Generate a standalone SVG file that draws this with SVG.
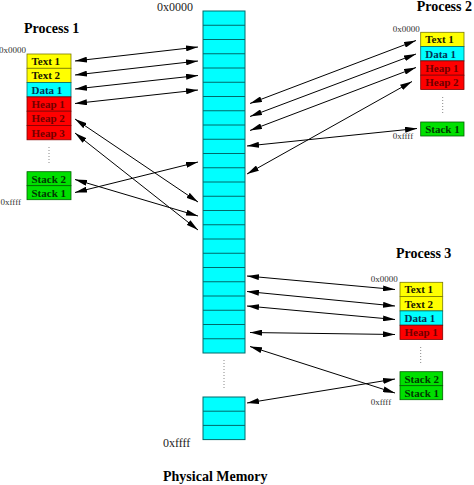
<svg xmlns="http://www.w3.org/2000/svg" width="474" height="485" viewBox="0 0 474 485">
<defs>
<marker id="ah" viewBox="0 0 12 6" refX="12" refY="3" markerWidth="12" markerHeight="6" markerUnits="userSpaceOnUse" orient="auto-start-reverse">
<path d="M0,0 L12,3 L0,6 Z" fill="#000"/>
</marker>
<style>
.t{font-family:"Liberation Serif","Times New Roman",serif;}
.title{font-size:14px;font-weight:bold;fill:#000;}
.addr{font-size:9px;fill:#333;}
.maddr{font-size:12px;fill:#222;}
.lbl{font-size:11px;font-weight:bold;}
.txt rect{fill:#ffff00;stroke:#7a7a00;stroke-width:0.8;}
.txt text{fill:#1a1a00;}
.dat rect{fill:#00ffff;stroke:#006a6a;stroke-width:0.8;}
.dat text{fill:#003355;}
.hp rect{fill:#ff0000;stroke:#800000;stroke-width:0.8;}
.hp text{fill:#700000;}
.stk rect{fill:#00e000;stroke:#006000;stroke-width:0.8;}
.stk text{fill:#003800;}
.mem{fill:#00ffff;stroke:#006a6a;stroke-width:1;}
.cell{stroke:#006a6a;stroke-width:1;}
.dots{stroke:#888;stroke-width:1;stroke-dasharray:1,2;fill:none;}
.arr{stroke:#000;stroke-width:1;fill:none;marker-start:url(#ah);marker-end:url(#ah);}
</style>
</defs>
<rect width="474" height="485" fill="#fff"/>

<g id="memory">
<rect class="mem" x="203" y="11" width="42" height="342"/>
<path class="cell" d="M203,25.25H245M203,39.5H245M203,53.75H245M203,68H245M203,82.25H245M203,96.5H245M203,110.75H245M203,125H245M203,139.25H245M203,153.5H245M203,167.75H245M203,182H245M203,196.25H245M203,210.5H245M203,224.75H245M203,239H245M203,253.25H245M203,267.5H245M203,281.75H245M203,296H245M203,310.25H245M203,324.5H245M203,338.75H245"/>
<line class="dots" x1="224" y1="360" x2="224" y2="388"/>
<rect class="mem" x="203" y="397" width="42" height="42.6"/>
<path class="cell" d="M203,411.2H245M203,425.4H245"/>
<text class="t maddr" x="157" y="11">0x0000</text>
<text class="t maddr" x="163" y="447">0xffff</text>
<text class="t title" x="163" y="481">Physical Memory</text>
</g>

<g id="process1">
<text class="t title" x="24" y="33">Process 1</text>
<text class="t addr" x="26" y="53" text-anchor="end">0x0000</text>
<text class="t addr" x="21" y="205" text-anchor="end">0xffff</text>
<g class="txt"><rect x="27" y="54" width="44" height="14.3"/><text class="t lbl" x="31.5" y="65">Text 1</text></g>
<g class="txt"><rect x="27" y="68.3" width="44" height="14.3"/><text class="t lbl" x="31.5" y="79.3">Text 2</text></g>
<g class="dat"><rect x="27" y="82.6" width="44" height="14.3"/><text class="t lbl" x="31.5" y="93.6">Data 1</text></g>
<g class="hp"><rect x="27" y="96.9" width="44" height="14.3"/><text class="t lbl" x="31.5" y="107.9">Heap 1</text></g>
<g class="hp"><rect x="27" y="111.2" width="44" height="14.3"/><text class="t lbl" x="31.5" y="122.2">Heap 2</text></g>
<g class="hp"><rect x="27" y="125.5" width="44" height="14.3"/><text class="t lbl" x="31.5" y="136.5">Heap 3</text></g>
<line class="dots" x1="49" y1="147" x2="49" y2="165"/>
<g class="stk"><rect x="27" y="171.7" width="44" height="14"/><text class="t lbl" x="31.5" y="182.5">Stack 2</text></g>
<g class="stk"><rect x="27" y="185.7" width="44" height="14"/><text class="t lbl" x="31.5" y="196.5">Stack 1</text></g>
</g>

<g id="process2">
<text class="t title" x="472" y="11" text-anchor="end">Process 2</text>
<text class="t addr" x="392.7" y="32">0x0000</text>
<text class="t addr" x="392.7" y="139">0xffff</text>
<g class="txt"><rect x="420.7" y="32.3" width="43.3" height="14.3"/><text class="t lbl" x="425.2" y="43.3">Text 1</text></g>
<g class="dat"><rect x="420.7" y="46.6" width="43.3" height="14.3"/><text class="t lbl" x="425.2" y="57.6">Data 1</text></g>
<g class="hp"><rect x="420.7" y="60.9" width="43.3" height="14.3"/><text class="t lbl" x="425.2" y="71.9">Heap 1</text></g>
<g class="hp"><rect x="420.7" y="75.2" width="43.3" height="14.3"/><text class="t lbl" x="425.2" y="86.2">Heap 2</text></g>
<line class="dots" x1="442.7" y1="97" x2="442.7" y2="115"/>
<g class="stk"><rect x="420.7" y="122" width="43.3" height="14"/><text class="t lbl" x="425.2" y="132.8">Stack 1</text></g>
</g>

<g id="process3">
<text class="t title" x="396" y="258">Process 3</text>
<text class="t addr" x="370.7" y="282">0x0000</text>
<text class="t addr" x="370.7" y="405">0xffff</text>
<g class="txt"><rect x="400" y="282.3" width="42.7" height="14.3"/><text class="t lbl" x="404.5" y="293.3">Text 1</text></g>
<g class="txt"><rect x="400" y="296.6" width="42.7" height="14.3"/><text class="t lbl" x="404.5" y="307.6">Text 2</text></g>
<g class="dat"><rect x="400" y="310.9" width="42.7" height="14.3"/><text class="t lbl" x="404.5" y="321.9">Data 1</text></g>
<g class="hp"><rect x="400" y="325.2" width="42.7" height="14.3"/><text class="t lbl" x="404.5" y="336.2">Heap 1</text></g>
<line class="dots" x1="420.7" y1="347" x2="420.7" y2="365"/>
<g class="stk"><rect x="400" y="371.7" width="42.7" height="14"/><text class="t lbl" x="404.5" y="382.5">Stack 2</text></g>
<g class="stk"><rect x="400" y="385.7" width="42.7" height="14"/><text class="t lbl" x="404.5" y="396.5">Stack 1</text></g>
</g>

<g id="connectors">
<line class="arr" x1="75" y1="61" x2="198" y2="47"/>
<line class="arr" x1="75" y1="75" x2="198" y2="61"/>
<line class="arr" x1="75" y1="89" x2="198" y2="75.5"/>
<line class="arr" x1="75" y1="103.5" x2="198" y2="90"/>
<line class="arr" x1="75" y1="119" x2="198" y2="202"/>
<line class="arr" x1="75" y1="133" x2="198" y2="230"/>
<line class="arr" x1="75" y1="179.5" x2="198" y2="216"/>
<line class="arr" x1="75" y1="192.5" x2="198" y2="162"/>

<line class="arr" x1="250" y1="103.5" x2="416" y2="40.5"/>
<line class="arr" x1="250" y1="116.5" x2="416" y2="54"/>
<line class="arr" x1="250" y1="130.5" x2="416" y2="67.5"/>
<line class="arr" x1="247" y1="174" x2="412" y2="81.5"/>
<line class="arr" x1="247" y1="146" x2="417" y2="128.5"/>

<line class="arr" x1="247" y1="276" x2="395" y2="289.5"/>
<line class="arr" x1="247" y1="291.5" x2="395" y2="306"/>
<line class="arr" x1="247" y1="306" x2="395" y2="319.5"/>
<line class="arr" x1="250" y1="332.5" x2="395" y2="334.5"/>
<line class="arr" x1="247" y1="403" x2="395" y2="379"/>
<line class="arr" x1="250" y1="346.5" x2="395" y2="393"/>
</g>
</svg>
